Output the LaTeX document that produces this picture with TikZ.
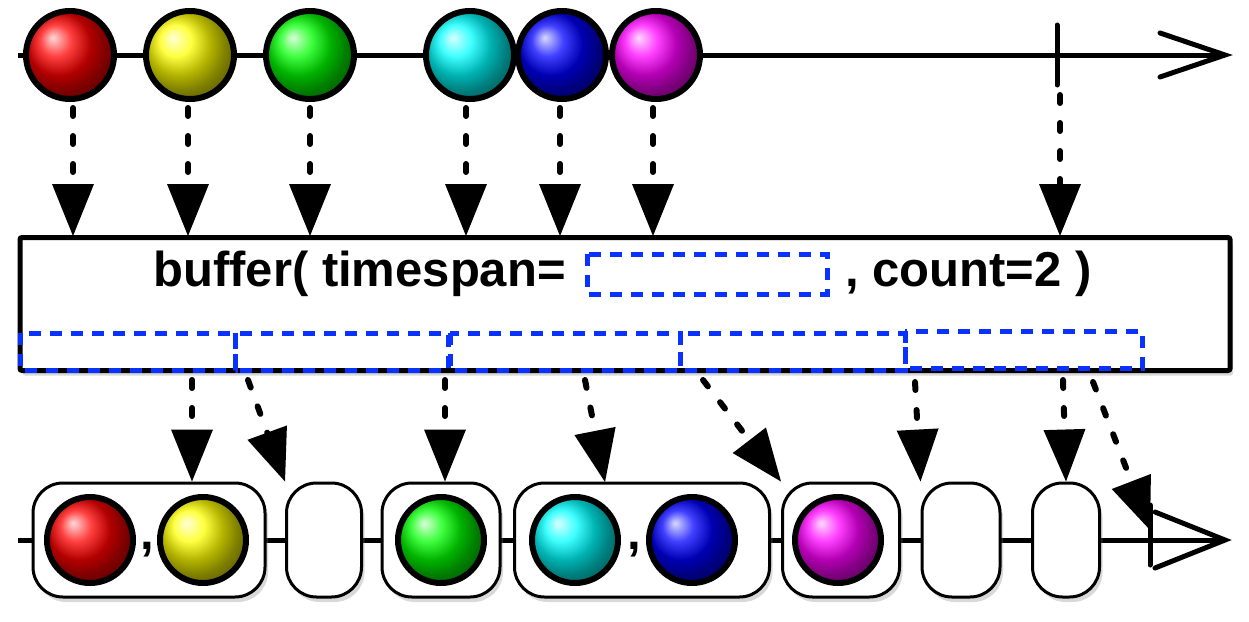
\documentclass[tikz,border=0pt]{standalone}
\usepackage{fontspec}
\setmainfont{Liberation Sans}
\usetikzlibrary{arrows.meta,shadows}
\begin{document}
\begin{tikzpicture}[x=1pt,y=-1pt,
  marble/.style={circle,draw=black,line width=6pt,minimum size=#1,inner sep=0pt,shading=ball},
  darr/.style={line width=6pt,line cap=round,dash pattern=on 8pt off 20pt,-{Triangle[length=52pt,width=42pt,fill=black,line width=0pt]},shorten >=0pt},
  grp/.style={draw=black,line width=3pt,fill=white,rounded corners=30pt,drop shadow={opacity=0.3,shadow xshift=3pt,shadow yshift=-5pt}},
  win/.style={draw={rgb,255:red,10;green,50;blue,255},line width=5pt,dash pattern=on 12pt off 9pt},
  tl/.style={line width=5pt},
  big/.style={font=\bfseries\fontsize{49}{56}\selectfont,inner sep=0pt}]
\useasboundingbox (0,0) rectangle (1249,621);
% top timeline
\coordinate (ts) at (18,55); \coordinate (te) at (1225,55);
\draw[tl] (ts) -- (te);
\draw[tl,line cap=round,line join=miter] (1160,33) -- (te) -- (1160,77);
\draw[tl,line cap=round] (1057,25) -- (1057,85);
\foreach \n/\x/\c in {m1/70/red,m2/190/yellow,m3/310/green,m4/470/cyan,m5/562/blue,m6/656/magenta}
  \node[marble=88pt,ball color=\c] (\n) at (\x,55) {};
% top arrows
\foreach \x [count=\i] in {73,188,310,466,560,653}{
  \coordinate (ta\i) at (\x,108); \coordinate (tb\i) at (\x,236);
  \draw[darr] (ta\i) -- (tb\i);}
\coordinate (ta7) at (1060,95); \coordinate (tb7) at (1060,236);
\draw[darr] (ta7) -- (tb7);
% operator box
\node[draw=black,line width=5pt,fill=white,minimum width=1210pt,minimum height=133pt,inner sep=0pt,rounded corners=2pt,drop shadow={opacity=0.3,shadow xshift=3pt,shadow yshift=-5pt}] (box) at (625,304) {};
\node[big,anchor=east] (t1) at (566,274) {buffer( timespan=};
\draw[win] (587,254) rectangle (827,294);
\node[big,anchor=west] (t2) at (845,274) {, count=2 )};
\draw[win] (20,333) rectangle (235,370);
\draw[win] (235,333) rectangle (448,370);
\draw[win] (450,333) rectangle (680,370);
\draw[win] (680,333) rectangle (905,370);
\draw[win] (905,331) rectangle (1142,368);
% bottom timeline
\coordinate (bs) at (18,540); \coordinate (be) at (1225,540);
\draw[tl] (bs) -- (be);
\draw[tl,line cap=round] (1155,512) -- (be) -- (1155,568);
% groups
\node[grp,minimum width=232pt,minimum height=114pt] (g1) at (149,540) {};
\node[grp,minimum width=75pt,minimum height=114pt] (g2) at (324,540) {};
\node[grp,minimum width=118pt,minimum height=114pt] (g3) at (441,540) {};
\node[grp,minimum width=255pt,minimum height=114pt] (g4) at (642,540) {};
\node[grp,minimum width=117pt,minimum height=114pt] (g5) at (841,540) {};
\node[grp,minimum width=78pt,minimum height=114pt] (g6) at (961,540) {};
\node[grp,minimum width=67pt,minimum height=114pt] (g7) at (1066,540) {};
\node[marble=86pt,ball color=red] (b1) at (90,540) {};
\node[marble=86pt,ball color=yellow] (b2) at (203,540) {};
\node[big] (c1) at (147,550) {,};
\node[marble=86pt,ball color=green] (b3) at (441,540) {};
\node[marble=86pt,ball color=cyan] (b4) at (575,540) {};
\node[marble=86pt,ball color=blue] (b5) at (692,540) {};
\node[big] (c2) at (634,550) {,};
\node[marble=86pt,ball color=magenta] (b6) at (838,540) {};
\draw[tl,line cap=round] (1150,505) -- (1150,565);
% bottom arrows
\coordinate (u1) at (192,380); \draw[darr] (u1) -- (g1.north -| 192,0);
\coordinate (u2) at (248,380); \draw[darr] (u2) -- (g2.north west);
\coordinate (u3) at (445,380); \draw[darr] (u3) -- (g3.north -| 445,0);
\coordinate (u4) at (585,380); \draw[darr] (u4) -- (605,482);
\coordinate (u5) at (703,380); \draw[darr] (u5) -- (g5.north west);
\coordinate (u6) at (915,382); \draw[darr] (u6) -- (g6.north west);
\coordinate (u7) at (1063,380); \draw[darr] (u7) -- (g7.north);
\coordinate (u8) at (1093,382); \coordinate (v8) at (1150,530); \draw[darr] (u8) -- (v8);
\end{tikzpicture}
\end{document}
